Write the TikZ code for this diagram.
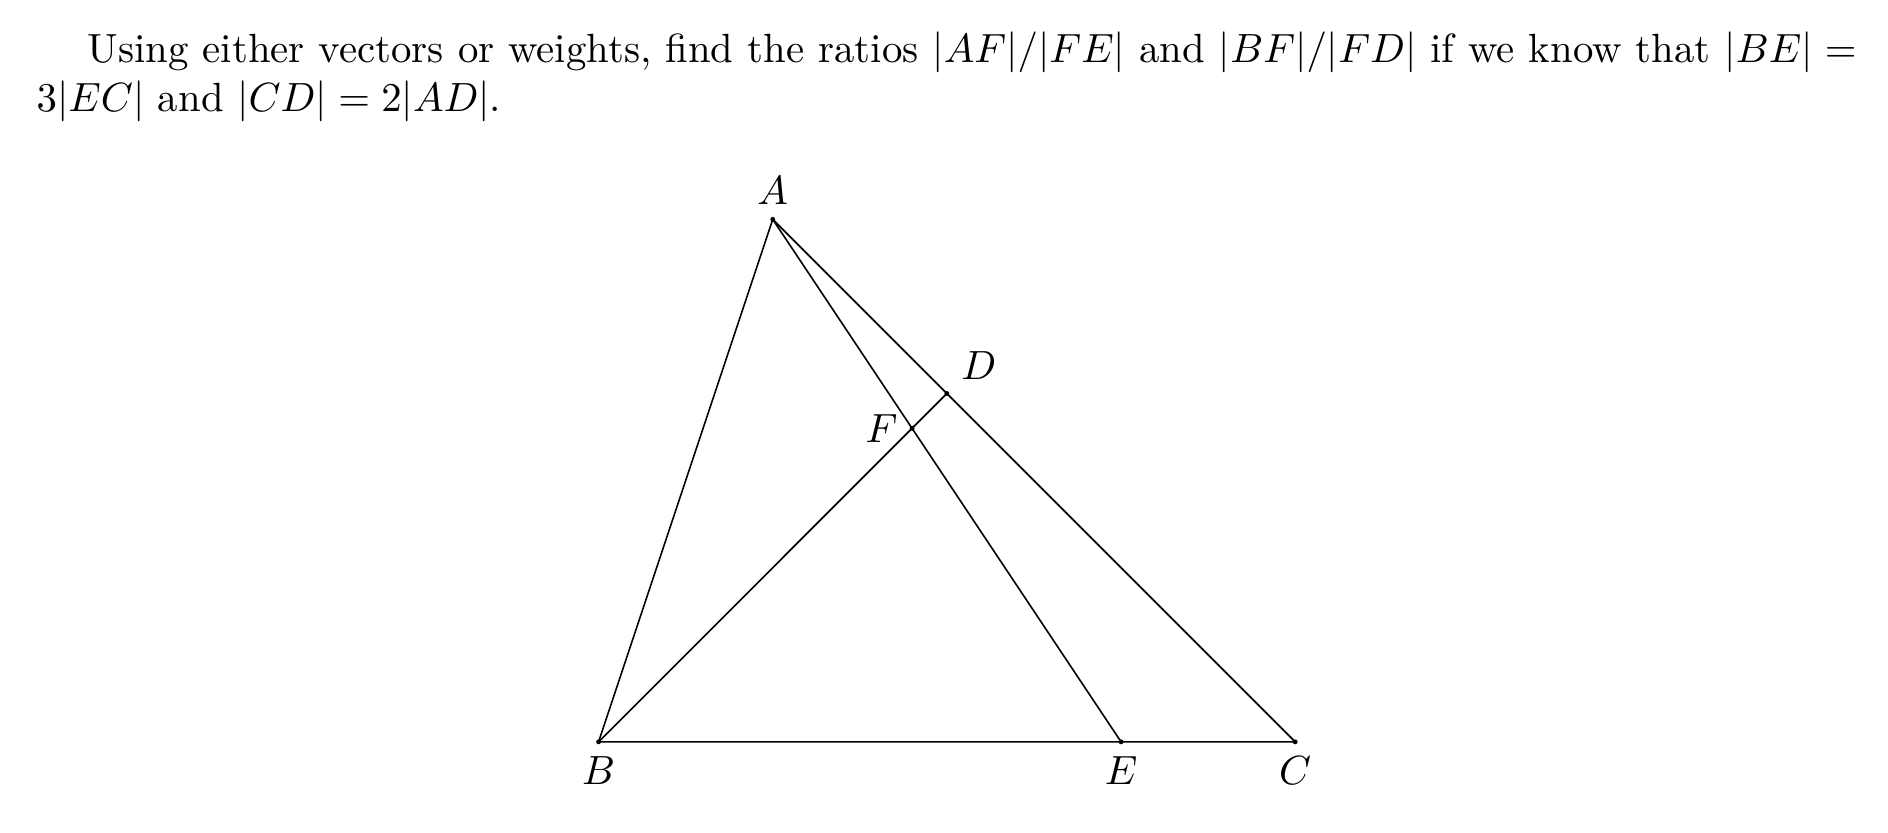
\documentclass[tikz,border=0pt]{standalone}
\usepackage{amsmath,amssymb}
\usepackage{tikz}
\usetikzlibrary{positioning,calc}

\begin{document}
\begin{tikzpicture}[x=1.5cm,y=1.5cm,
  ptlabel/.style={font=\normalsize},
  ptdot/.style={fill=black}]

% Page frame
\useasboundingbox (-146.7pt,-22.1pt) rectangle (316.0pt,181.8pt);

% Problem statement
\node[anchor=base west, inner sep=0pt, text width=446pt, align=justify] (task) at (-137.9pt,166.5pt)
  {\hspace*{12.5pt}Using either vectors or weights, find the ratios $|AF|/|FE|$ and $|BF|/|FD|$ if we know that $|BE| =$\linebreak $3|EC|$ and $|CD| = 2|AD|$.};

% Vertices
\coordinate (B) at (0,0);
\coordinate (C) at (4,0);
\coordinate (A) at (1,3);

% Points on the sides
\coordinate (E) at ($(B)!0.75!(C)$);
\coordinate (D) at ($(A)!0.3333!(C)$);
\coordinate (F) at ($(A)!0.4!(E)$);

% Triangle
\draw (A) -- (B) -- (C) -- cycle;

% Cevians
\draw (A) -- (E);
\draw (B) -- (D);

% Dots
\foreach \p in {A,B,C,D,E,F}
  \fill[ptdot] (\p) circle (0.6pt);

% Labels
\node[ptlabel, above] (labA) at (A) {$A$};
\node[ptlabel, below] (labB) at (B) {$B$};
\node[ptlabel, below] (labC) at (C) {$C$};
\node[ptlabel, below] (labE) at (E) {$E$};
\node[ptlabel, above right] (labD) at (D) {$D$};
\node[ptlabel, left] (labF) at (F) {$F$};

\end{tikzpicture}
\end{document}
